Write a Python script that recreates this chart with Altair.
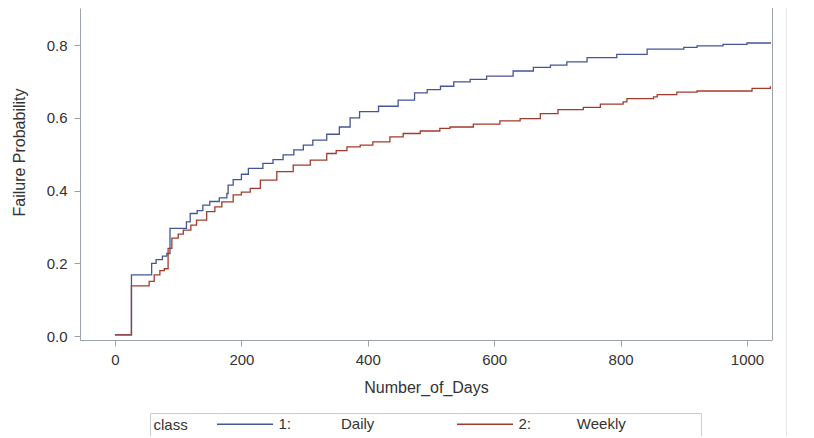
import altair as alt
import pandas as pd

NB = "\u00a0"
ZW = "\u200b"

# ---- data (step curves) ----
daily_days = [0, 26, 58, 65, 75, 82, 87, 113, 119, 130, 139, 150, 165, 177, 179, 187, 200,
              211, 234, 250, 266, 283, 298, 313, 335, 355, 372, 387, 417, 448, 474, 494,
              515, 536, 562, 588, 630, 662, 689, 715, 747, 794, 842, 900, 921, 962, 1000, 1037]
daily_prob = [0.003, 0.168, 0.200, 0.210, 0.220, 0.227, 0.296, 0.314, 0.337, 0.345, 0.360,
              0.370, 0.380, 0.392, 0.415, 0.430, 0.445, 0.461, 0.475, 0.485, 0.498, 0.512,
              0.525, 0.539, 0.555, 0.575, 0.600, 0.617, 0.632, 0.649, 0.669, 0.678, 0.687,
              0.699, 0.706, 0.715, 0.729, 0.739, 0.745, 0.754, 0.766, 0.775, 0.789, 0.794,
              0.798, 0.802, 0.806, 0.808]

weekly_days = [0, 26, 54, 62, 71, 78, 84, 90, 100, 108, 120, 129, 145, 158, 169, 187, 200,
               214, 230, 256, 282, 309, 335, 350, 367, 388, 408, 435, 456, 483, 514, 530,
               567, 609, 641, 673, 701, 741, 768, 804, 810, 852, 858, 889, 921, 1008, 1037]
weekly_prob = [0.003, 0.138, 0.150, 0.168, 0.180, 0.185, 0.241, 0.269, 0.280, 0.291, 0.305,
               0.319, 0.342, 0.355, 0.369, 0.388, 0.396, 0.406, 0.429, 0.452, 0.470, 0.484,
               0.502, 0.510, 0.520, 0.525, 0.534, 0.548, 0.557, 0.564, 0.571, 0.575, 0.583,
               0.592, 0.598, 0.612, 0.623, 0.629, 0.638, 0.644, 0.653, 0.658, 0.664, 0.671,
               0.674, 0.681, 0.687]

class_labels = ["1:" + NB * 12 + "Daily", "2:" + NB * 11 + "Weekly" + NB * 17 + ZW]
class_colors = ["#445694", "#A23A2E"]
x_ticks = [0, 200, 400, 600, 800, 1000]
y_ticks = [0.0, 0.2, 0.4, 0.6, 0.8]

rows = []
for d, p in zip(daily_days, daily_prob):
    rows.append({"days": d, "prob": p, "cls": class_labels[0]})
for d, p in zip(weekly_days, weekly_prob):
    rows.append({"days": d, "prob": p, "cls": class_labels[1]})
df = pd.DataFrame(rows)
one = pd.DataFrame({"k": [0]})

FONT = "Liberation Sans"
AX = "#9DA3AA"
TXT = "#333333"

lines = alt.Chart(df).mark_line(interpolate="step-after", strokeWidth=1.3).encode(
    x=alt.X("days:Q",
            scale=alt.Scale(domain=[-55.4, 1039.6], nice=False, zero=False),
            axis=alt.Axis(values=x_ticks, title="Number_of_Days", format="d",
                          titleBaseline="middle", titleY=47, labelPadding=6)),
    y=alt.Y("prob:Q",
            scale=alt.Scale(domain=[-0.011, 0.9023], nice=False, zero=False),
            axis=alt.Axis(values=y_ticks, title="Failure Probability", format=".1f",
                          titleBaseline="middle", titleX=-61, titleY=144, labelPadding=7)),
    color=alt.Color("cls:N",
                    scale=alt.Scale(domain=class_labels, range=class_colors),
                    legend=alt.Legend(title="class", orient="none", legendX=70, legendY=405,
                                      direction="horizontal", titleOrient="left",
                                      strokeColor="#C8CCD0", padding=3.5,
                                      symbolType="M-28,0H28", symbolSize=4,
                                      symbolOffset=28,
                                      symbolStrokeWidth=1.3, labelOffset=26,
                                      columnPadding=75, labelLimit=400, titlePadding=21)),
)

# right border of the plot wall (top edge lies outside the visible area in the reference)
right_border = alt.Chart(one).mark_rule(color=AX, strokeWidth=1).encode(
    x=alt.value(692.5), y=alt.value(0), y2=alt.value(332)
)

edge = alt.Chart(one).mark_rule(color="#E4E6E8", strokeWidth=1).encode(
    x=alt.value(706.5), y=alt.value(-8), y2=alt.value(430)
)

chart = alt.layer(lines, right_border, edge).properties(
    width=692, height=332,
    autosize=alt.AutoSizeParams(type="none"),
    padding={"left": 72, "top": 0, "right": 34, "bottom": 96},
).configure_view(strokeWidth=0).configure_axis(
    grid=False, domainColor=AX, tickColor=AX, tickSize=6,
    labelFont=FONT, labelFontSize=15, labelColor=TXT,
    titleFont=FONT, titleFontSize=16, titleFontWeight="normal", titleColor=TXT,
).configure_legend(
    labelFont=FONT, labelFontSize=15, labelColor=TXT,
    titleFont=FONT, titleFontSize=15, titleFontWeight="normal", titleColor=TXT,
)

chart.save("out.html", embed_options={"renderer": "svg", "actions": False})
